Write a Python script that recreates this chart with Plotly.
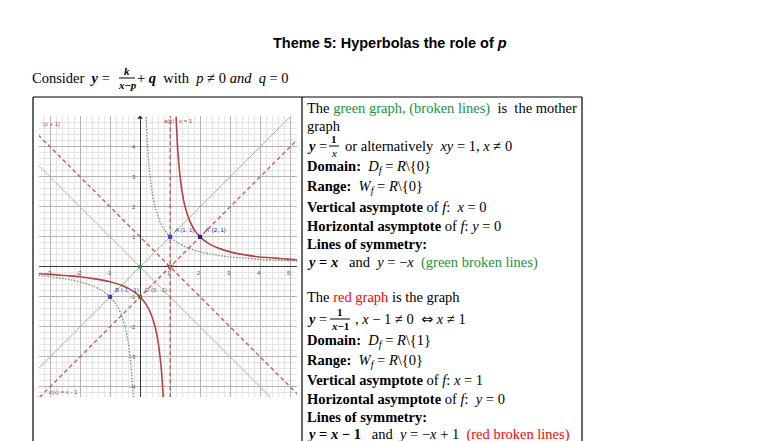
import plotly.graph_objects as go

W, H = 784, 441

# ---- data ----
# mother graph y = 1/x (green dotted)
mother_right_x = [0.2, 0.25, 0.3, 0.4, 0.5, 0.65, 0.8, 1.0, 1.25, 1.6, 2.0, 2.5, 3.0, 3.5, 4.0, 4.5, 5.0, 5.25]
mother_right_y = [5.0, 4.0, 3.33, 2.5, 2.0, 1.54, 1.25, 1.0, 0.8, 0.625, 0.5, 0.4, 0.33, 0.29, 0.25, 0.22, 0.2, 0.19]
mother_left_x = [-3.4, -3.0, -2.5, -2.0, -1.6, -1.25, -1.0, -0.8, -0.65, -0.5, -0.4, -0.3, -0.25, -0.23]
mother_left_y = [-0.29, -0.33, -0.4, -0.5, -0.625, -0.8, -1.0, -1.25, -1.54, -2.0, -2.5, -3.33, -4.0, -4.35]

# shifted graph y = 1/(x-1) (red solid)
red_right_x = [1.2, 1.25, 1.3, 1.4, 1.5, 1.65, 1.8, 2.0, 2.25, 2.6, 3.0, 3.5, 4.0, 4.5, 5.0, 5.25]
red_right_y = [5.0, 4.0, 3.33, 2.5, 2.0, 1.54, 1.25, 1.0, 0.8, 0.625, 0.5, 0.4, 0.33, 0.29, 0.25, 0.235]
red_left_x = [-3.4, -3.0, -2.5, -2.0, -1.5, -1.0, -0.6, -0.25, 0.0, 0.2, 0.35, 0.5, 0.6, 0.7, 0.75, 0.77]
red_left_y = [-0.23, -0.25, -0.29, -0.33, -0.4, -0.5, -0.625, -0.8, -1.0, -1.25, -1.54, -2.0, -2.5, -3.33, -4.0, -4.35]

# lines of symmetry / asymptotes (end points)
green_sym_x = [[-3.4, 5.05], [-3.4, 4.35]]
green_sym_y = [[-3.4, 5.05], [3.4, -4.35]]
red_dash_x = [[-3.35, 5.25], [-3.4, 5.25], [1.0, 1.0]]
red_dash_y = [[-4.35, 4.25], [4.4, -4.25], [-4.35, 5.05]]

# labelled points
pt_x = [1, 2, -1, 0]
pt_y = [1, 1, -1, -1]
pt_names = ["A (1, 1)", "A' (2, 1)", "B (-1, -1)", "D (0, -1)"]
pt_colors = ["#3a3ad8", "#1c1c80", "#3a3ad8", "#8a5a2a"]

x_ticks = [-3, -2, -1, 1, 2, 3, 4, 5]
y_ticks = [4, 3, 2, 1, -1, -2, -3, -4]

x_range = [-3.37, 5.23]
y_range = [-4.34, 5.03]


def px(x):
    return x / W


def py(y):
    return 1 - y / H


RED = "#b04444"
RED_DASH = "#c45656"
GREEN_DOT = "#6f9a6f"
GREEN_LINE = "#9ab89a"
TXT_GREEN = "#23903f"
SERIF = "Liberation Serif"
FS = 14.5
SP = "&nbsp;"

fig = go.Figure()

for xs, ys in zip(green_sym_x, green_sym_y):
    fig.add_trace(go.Scatter(x=xs, y=ys, mode="lines", line=dict(color=GREEN_LINE, width=0.9)))
for xs, ys in zip(red_dash_x, red_dash_y):
    fig.add_trace(go.Scatter(x=xs, y=ys, mode="lines", line=dict(color=RED_DASH, width=1.3, dash="4px,3px")))

for xs, ys in [(mother_right_x, mother_right_y), (mother_left_x, mother_left_y)]:
    fig.add_trace(go.Scatter(x=xs, y=ys, mode="lines",
                             line=dict(color=GREEN_DOT, width=1.3, dash="1.5px,1.5px", shape="spline", smoothing=0.8)))
for xs, ys in [(red_right_x, red_right_y), (red_left_x, red_left_y)]:
    fig.add_trace(go.Scatter(x=xs, y=ys, mode="lines",
                             line=dict(color=RED, width=1.6, shape="spline", smoothing=0.8)))

fig.add_trace(go.Scatter(x=pt_x, y=pt_y, mode="markers",
                         marker=dict(color=pt_colors, size=4, symbol="square")))
fig.add_trace(go.Scatter(x=[0], y=[0], mode="markers", marker=dict(color="#3c8a3c", size=4)))
fig.add_trace(go.Scatter(x=[1], y=[0], mode="markers",
                         marker=dict(color=RED_DASH, size=6, symbol="triangle-down-open")))
fig.add_trace(go.Scatter(x=[0], y=[y_range[1] - 0.05], mode="markers",
                         marker=dict(color="#333333", size=5, symbol="triangle-up")))

ann = []
for x, y, name, c in zip(pt_x, pt_y, pt_names, pt_colors):
    ann.append(dict(x=x + 0.08, y=y + 0.05, xref="x", yref="y", text=name, showarrow=False,
                    xanchor="left", yanchor="bottom", font=dict(size=6, color=c, family="Liberation Sans")))
for t in x_ticks:
    ann.append(dict(x=t - 0.05, y=-0.05, xref="x", yref="y", text=str(t), showarrow=False,
                    xanchor="center", yanchor="top", font=dict(size=6, color="#555555", family="Liberation Sans")))
for t in y_ticks:
    ann.append(dict(x=-0.08, y=t, xref="x", yref="y", text=str(t), showarrow=False,
                    xanchor="right", yanchor="middle", font=dict(size=6, color="#555555", family="Liberation Sans")))
for x, y, t in [(-3.3, 4.77, "(x + 1)"), (0.72, 4.87, "a(x)"),
                (1.22, 4.87, "x = 1"), (-3.1, -4.17, "c(x) = x - 1")]:
    ann.append(dict(x=x, y=y, xref="x", yref="y", text=t, showarrow=False, xanchor="left",
                    yanchor="middle", font=dict(size=6, color=RED, family="Liberation Sans")))


def note(x, y, text, size=FS, anchor="left", family=SERIF, color="black"):
    if anchor == "left":
        x -= 3
    ann.append(dict(x=px(x), y=py(y), xref="paper", yref="paper", text=text, showarrow=False,
                    xanchor=anchor, yanchor="middle", font=dict(size=size, family=family, color=color)))


shapes = []


def frac(xc, y, num, den, half, size=11):
    note(xc, y - 7, num, size=size, anchor="center")
    note(xc, y + 7, den, size=size, anchor="center")
    shapes.append(dict(type="line", xref="paper", yref="paper", x0=px(xc - half), x1=px(xc + half),
                       y0=py(y), y1=py(y), line=dict(color="black", width=1)))


iff = "<span style='font-family:DejaVu Sans'>⇔</span>"

# heading
note(390, 43, "<b>Theme 5: Hyperbolas the role of <i>p</i></b>", size=14.5, anchor="center",
     family="Liberation Sans")
note(33, 78, "Consider" + SP + " <b><i>y</i></b> =")
frac(127, 78, "<b><i>k</i></b>", "<b><i>x</i>−<i>p</i></b>", 8)
note(138, 78, "+ <b><i>q</i></b>" + SP * 2 + "with" + SP * 2 + "<i>p</i> ≠ 0 <i>and</i>" + SP * 2 + "<i>q</i> = 0")

# right cell: mother graph
g = "<span style='color:%s'>%s</span>"
note(308, 109, "The " + g % (TXT_GREEN, "green graph, (broken lines)")
     + SP * 2 + "is" + SP * 2 + "the mother")
note(308, 126, "graph")
note(308, 146, "<b><i>y</i></b> =")
frac(334, 146, "<b>1</b>", "<i>x</i>", 5)
note(346, 146, "or alternatively" + SP * 2 + "<i>xy</i> = 1, <i>x</i> ≠ 0")
note(308, 167, "<b>Domain:</b>" + SP * 2 + "<i>D<sub>f</sub></i> = <i>R</i>\\{0}")
note(308, 187, "<b>Range:</b>" + SP * 2 + "<i>W<sub>f</sub></i> = <i>R</i>\\{0}")
note(308, 207, "<b>Vertical asymptote</b> of <i>f</i>:" + SP * 2 + "<i>x</i> = 0")
note(308, 226, "<b>Horizontal asymptote</b> of <i>f</i>: <i>y</i> = 0")
note(308, 244, "<b>Lines of symmetry:</b>")
note(308, 262, "<b><i>y</i> = <i>x</i></b>" + SP * 3 + "and" + SP * 2 + "<i>y</i> = −<i>x</i>" + SP * 2
     + g % (TXT_GREEN, "(green broken lines)"))

# right cell: red graph
note(308, 297, "The " + g % ("#ff0000", "red graph") + " is the graph")
note(308, 319, "<b><i>y</i></b> =")
frac(340, 319, "<b>1</b>", "<b><i>x</i>−1</b>", 10)
note(356, 319, ", <i>x</i> − 1 ≠ 0" + SP * 2 + iff + " <i>x</i> ≠ 1")
note(308, 341, "<b>Domain:</b>" + SP * 2 + "<i>D<sub>f</sub></i> = <i>R</i>\\{1}")
note(308, 361, "<b>Range:</b>" + SP * 2 + "<i>W<sub>f</sub></i> = <i>R</i>\\{0}")
note(308, 380, "<b>Vertical asymptote</b> of <i>f</i>: <i>x</i> = 1")
note(308, 399, "<b>Horizontal asymptote</b> of <i>f</i>:" + SP * 2 + "<i>y</i> = 0")
note(308, 417, "<b>Lines of symmetry:</b>")
note(308, 434, "<b><i>y</i> = <i>x</i> − 1</b>" + SP * 3 + "and" + SP * 2 + "<i>y</i> = −<i>x</i> + 1" + SP * 2
     + g % ("#ff0000", "(red broken lines)"))

# table borders
for x0, y0, x1, y1 in [(33, 97, 582, 97), (33, 97, 33, 441), (582, 97, 582, 441), (302, 97, 302, 441)]:
    shapes.append(dict(type="line", xref="paper", yref="paper", x0=px(x0), y0=py(y0), x1=px(x1), y1=py(y1),
                       line=dict(color="black", width=1.2)))

fig.update_layout(
    width=W, height=H, margin=dict(l=0, r=0, t=0, b=0),
    paper_bgcolor="white", plot_bgcolor="white", showlegend=False,
    xaxis=dict(domain=[px(39), px(297)], range=x_range, dtick=1, showticklabels=False, ticks="",
               showgrid=True, gridcolor="#b4b4b4", gridwidth=0.8,
               minor=dict(dtick=0.2, showgrid=True, gridcolor="#e4e4e4", gridwidth=0.6),
               zeroline=True, zerolinecolor="#3a3a3a", zerolinewidth=1.4, showline=False),
    yaxis=dict(domain=[py(397), py(116)], range=y_range, dtick=1, showticklabels=False, ticks="",
               showgrid=True, gridcolor="#b4b4b4", gridwidth=0.8,
               minor=dict(dtick=0.2, showgrid=True, gridcolor="#e4e4e4", gridwidth=0.6),
               zeroline=True, zerolinecolor="#3a3a3a", zerolinewidth=1.4, showline=False),
    annotations=ann, shapes=shapes,
)

# page body has a default 8px margin; drop it so the figure sits at the window corner
fig.write_html("out.html", config={"displayModeBar": False},
               post_script="document.body.style.margin='0';")
